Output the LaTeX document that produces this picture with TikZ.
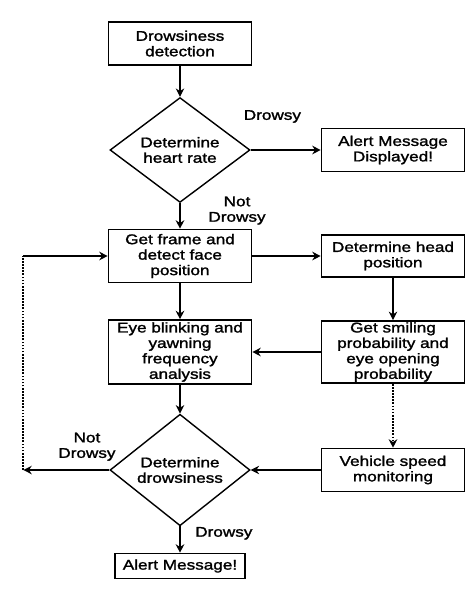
\documentclass[tikz,border=0pt]{standalone}
\usepackage{fontspec}
\setmainfont{Liberation Sans}[FakeStretch=1.22,FakeBold=1.6]
\usetikzlibrary{shapes.geometric, positioning, arrows.meta}

\begin{document}
\begin{tikzpicture}[->,>={Stealth[length=6pt,width=6pt]},thick,node distance=5.325cm,font=\fontsize{10}{11}\selectfont]
  \tikzstyle{box}=[rectangle,draw=black,line width=1.1pt,minimum width=3.575cm,align=center,inner sep=1pt]
  \tikzstyle{decision}=[diamond,draw=black,line width=1pt,minimum width=3.5cm,minimum height=2.075cm,inner sep=0pt,align=center]
  \tikzstyle{dots}=[densely dotted,line width=1.2pt]

  \useasboundingbox (-4.5,1.0875) rectangle (7.35,-13.6625);

  \node[box, minimum height=1.075cm] (Detect) {Drowsiness\\detection};
  \node[decision] (Heart) [below of=Detect, node distance=2.6625cm] {Determine\\heart rate};
  \node[box, minimum height=1.075cm] (Alert) [right of=Heart] {Alert Message\\Displayed!};
  \node[box, minimum height=1.325cm] (Frame) [below of=Heart, node distance=2.65cm] {Get frame and\\detect face\\position};
  \node[box, minimum height=1.05cm] (Head) [right of=Frame] {Determine head\\position};
  \node[box, minimum height=1.6cm] (Blink) [below of=Frame, node distance=2.4cm] {Eye blinking and\\yawning\\frequency\\analysis};
  \node[box, minimum height=1.475cm] (Smile) [right of=Blink] {Get smiling\\probability and\\eye opening\\probability};
  \node[decision] (Decide) [below of=Blink, node distance=2.95cm] {Determine\\drowsiness};
  \node[box, minimum height=1.075cm] (Speed) [right of=Decide] {Vehicle speed\\monitoring};
  \node[box, minimum width=3.25cm, minimum height=0.625cm] (Final) [below of=Decide, node distance=2.4cm] {Alert Message!};

  \path (Detect) edge (Heart)
        (Heart) edge node[pos=0.31, above=0.55cm] {Drowsy} (Alert)
        (Heart) edge node[pos=0.29, right=0.58cm, align=center] {Not\\Drowsy} (Frame)
        (Frame) edge (Head)
        (Frame) edge (Blink)
        (Head) edge (Smile)
        (Smile) edge (Blink)
        (Smile) edge [dots] (Speed)
        (Blink) edge (Decide)
        (Speed) edge (Decide)
        (Decide) edge node[pos=0.26, right=0.25cm] {Drowsy} (Final);

  % back to the frame step
  \coordinate (LoopB) at ([xshift=-2.15cm]Decide.west);
  \coordinate (LoopT) at (LoopB |- Frame.west);
  \draw (Decide.west) -- node[pos=0.26, above=0.1cm, align=center] {Not\\Drowsy} (LoopB);
  \draw[-, dots] (LoopB) -- (LoopT);
  \draw (LoopT) -- (Frame.west);

\end{tikzpicture}
\end{document}
